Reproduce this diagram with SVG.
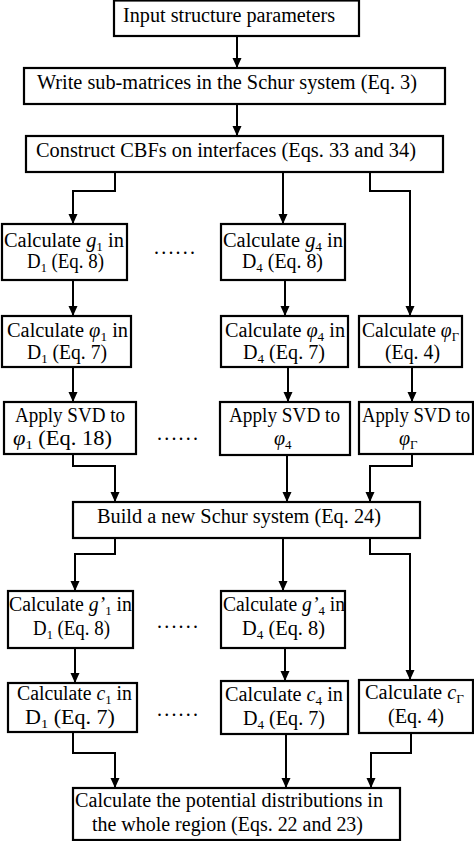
<svg xmlns="http://www.w3.org/2000/svg" width="474" height="841" viewBox="0 0 474 841">
<defs>
<marker id="ah" markerUnits="userSpaceOnUse" markerWidth="10" markerHeight="10" refX="10" refY="5" orient="auto">
<path d="M0,0.5 L10,5 L0,9.5 z" fill="#000"/>
</marker>
<style>
.b{fill:#fff;stroke:#000;stroke-width:2.2}
.c{fill:none;stroke:#000;stroke-width:2}
.a{marker-end:url(#ah)}
text{font-family:"Liberation Serif","Times New Roman",serif;font-size:20px;fill:#000}
.i{font-style:italic}
.s{font-size:13px}
</style>
</defs>
<rect width="474" height="841" fill="#fff"/>
<g id="connectors">
<path class="c a" d="M237,36 V68"/>
<path class="c a" d="M237,104 V136"/>
<path class="c a" d="M115,172 V191 H73 V224"/>
<path class="c a" d="M283,172 V224"/>
<path class="c a" d="M370,172 V191 H410 V316"/>
<path class="c a" d="M73,280 V316"/>
<path class="c a" d="M285,280 V316"/>
<path class="c a" d="M73,367 V402"/>
<path class="c a" d="M288,367 V402"/>
<path class="c a" d="M412,367 V402"/>
<path class="c a" d="M73,454 V466 H115 V502"/>
<path class="c a" d="M287,455 V502"/>
<path class="c a" d="M412,454 V466 H370 V502"/>
<path class="c a" d="M115,538 V554 H75 V591"/>
<path class="c a" d="M283,538 V591"/>
<path class="c a" d="M370,538 V554 H410 V680"/>
<path class="c a" d="M75,648 V683"/>
<path class="c a" d="M285,648 V681"/>
<path class="c a" d="M73,732 V753 H115 V788"/>
<path class="c a" d="M286,734 V788"/>
<path class="c a" d="M411,733 V753 H371 V788"/>
</g>
<g id="n1"><rect class="b" x="114" y="0.5" width="245" height="35.5"/>
<text x="123" y="22" textLength="212" lengthAdjust="spacingAndGlyphs">Input structure parameters</text></g>
<g id="n2"><rect class="b" x="24" y="68" width="421" height="36"/>
<text x="37" y="89" textLength="380" lengthAdjust="spacingAndGlyphs">Write sub-matrices in the Schur system (Eq. 3)</text></g>
<g id="n3"><rect class="b" x="26" y="136" width="417" height="36"/>
<text x="36" y="157" textLength="380" lengthAdjust="spacingAndGlyphs">Construct CBFs on interfaces (Eqs. 33 and 34)</text></g>
<g id="g1"><rect class="b" x="2" y="224" width="125" height="56"/>
<text x="4" y="247" textLength="120" lengthAdjust="spacingAndGlyphs">Calculate <tspan class="i">g</tspan><tspan class="s" baseline-shift="-4">1</tspan> in</text>
<text x="27" y="268" textLength="77" lengthAdjust="spacingAndGlyphs">D<tspan class="s" baseline-shift="-4">1</tspan> (Eq. 8)</text></g>
<g id="g4"><rect class="b" x="221" y="224" width="124" height="56"/>
<text x="223" y="247" textLength="120" lengthAdjust="spacingAndGlyphs">Calculate <tspan class="i">g</tspan><tspan class="s" baseline-shift="-4">4</tspan> in</text>
<text x="242" y="268" textLength="81" lengthAdjust="spacingAndGlyphs">D<tspan class="s" baseline-shift="-4">4</tspan> (Eq. 8)</text></g>
<g id="dots1"><text x="154" y="254" textLength="41" lengthAdjust="spacing">......</text></g>
<g id="p1"><rect class="b" x="2" y="316" width="129" height="51"/>
<text x="7" y="337" textLength="121" lengthAdjust="spacingAndGlyphs">Calculate <tspan class="i">φ</tspan><tspan class="s" baseline-shift="-4">1</tspan> in</text>
<text x="27" y="359" textLength="80" lengthAdjust="spacingAndGlyphs">D<tspan class="s" baseline-shift="-4">1</tspan> (Eq. 7)</text></g>
<g id="p4"><rect class="b" x="221" y="316" width="127" height="51"/>
<text x="225" y="337" textLength="120" lengthAdjust="spacingAndGlyphs">Calculate <tspan class="i">φ</tspan><tspan class="s" baseline-shift="-4">4</tspan> in</text>
<text x="243" y="359" textLength="82" lengthAdjust="spacingAndGlyphs">D<tspan class="s" baseline-shift="-4">4</tspan> (Eq. 7)</text></g>
<g id="pG"><rect class="b" x="359" y="316" width="103" height="51"/>
<text x="362" y="337" textLength="97" lengthAdjust="spacingAndGlyphs">Calculate <tspan class="i">φ</tspan><tspan class="s" baseline-shift="-4">Γ</tspan></text>
<text x="385" y="359" textLength="55" lengthAdjust="spacingAndGlyphs">(Eq. 4)</text></g>
<g id="s1"><rect class="b" x="4" y="402" width="132" height="52"/>
<text x="15" y="422" textLength="110" lengthAdjust="spacingAndGlyphs">Apply SVD to</text>
<text x="13" y="445" textLength="99" lengthAdjust="spacingAndGlyphs"><tspan class="i">φ</tspan><tspan class="s" baseline-shift="-4">1</tspan> (Eq. 18)</text></g>
<g id="s4"><rect class="b" x="220" y="402" width="130" height="53"/>
<text x="229" y="422" textLength="111" lengthAdjust="spacingAndGlyphs">Apply SVD to</text>
<text x="274" y="445"><tspan class="i">φ</tspan><tspan class="s" baseline-shift="-4">4</tspan></text></g>
<g id="sG"><rect class="b" x="359" y="402" width="114" height="52"/>
<text x="362" y="422" textLength="108" lengthAdjust="spacingAndGlyphs">Apply SVD to</text>
<text x="399" y="445"><tspan class="i">φ</tspan><tspan class="s" baseline-shift="-4">Γ</tspan></text></g>
<g id="dots2"><text x="157" y="440" textLength="41" lengthAdjust="spacing">......</text></g>
<g id="schur"><rect class="b" x="73" y="502" width="347" height="36"/>
<text x="97" y="523" textLength="284" lengthAdjust="spacingAndGlyphs">Build a new Schur system (Eq. 24)</text></g>
<g id="gp1"><rect class="b" x="8" y="591" width="125" height="57"/>
<text x="9" y="611" textLength="123" lengthAdjust="spacingAndGlyphs">Calculate <tspan class="i">g’</tspan><tspan class="s" baseline-shift="-4">1</tspan> in</text>
<text x="33" y="635" textLength="77" lengthAdjust="spacingAndGlyphs">D<tspan class="s" baseline-shift="-4">1</tspan> (Eq. 8)</text></g>
<g id="gp4"><rect class="b" x="221" y="591" width="124" height="57"/>
<text x="223" y="611" textLength="122" lengthAdjust="spacingAndGlyphs">Calculate <tspan class="i">g’</tspan><tspan class="s" baseline-shift="-4">4</tspan> in</text>
<text x="242" y="635" textLength="83" lengthAdjust="spacingAndGlyphs">D<tspan class="s" baseline-shift="-4">4</tspan> (Eq. 8)</text></g>
<g id="dots3"><text x="157" y="628" textLength="41" lengthAdjust="spacing">......</text></g>
<g id="c1"><rect class="b" x="8" y="683" width="129" height="49"/>
<text x="17" y="700" textLength="115" lengthAdjust="spacingAndGlyphs">Calculate <tspan class="i">c</tspan><tspan class="s" baseline-shift="-4">1</tspan> in</text>
<text x="25" y="724" textLength="90" lengthAdjust="spacingAndGlyphs">D<tspan class="s" baseline-shift="-4">1</tspan> (Eq. 7)</text></g>
<g id="c4"><rect class="b" x="221" y="681" width="127" height="53"/>
<text x="225" y="701" textLength="118" lengthAdjust="spacingAndGlyphs">Calculate <tspan class="i">c</tspan><tspan class="s" baseline-shift="-4">4</tspan> in</text>
<text x="243" y="725" textLength="82" lengthAdjust="spacingAndGlyphs">D<tspan class="s" baseline-shift="-4">4</tspan> (Eq. 7)</text></g>
<g id="cG"><rect class="b" x="359" y="680" width="114" height="53"/>
<text x="365" y="699" textLength="99" lengthAdjust="spacingAndGlyphs">Calculate <tspan class="i">c</tspan><tspan class="s" baseline-shift="-4">Γ</tspan></text>
<text x="388" y="723" textLength="56" lengthAdjust="spacingAndGlyphs">(Eq. 4)</text></g>
<g id="dots4"><text x="157" y="716" textLength="41" lengthAdjust="spacing">......</text></g>
<g id="final"><rect class="b" x="73" y="788" width="327" height="52"/>
<text x="75" y="807" textLength="308" lengthAdjust="spacingAndGlyphs">Calculate the potential distributions in</text>
<text x="92" y="831" textLength="271" lengthAdjust="spacingAndGlyphs">the whole region (Eqs. 22 and 23)</text></g>
</svg>
